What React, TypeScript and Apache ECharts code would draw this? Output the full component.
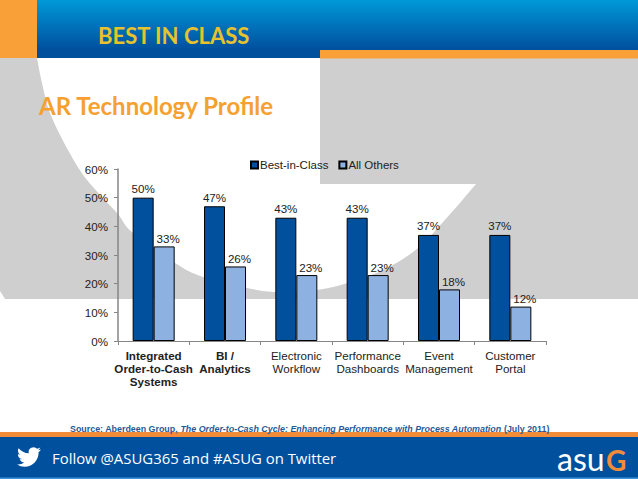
import React, { useEffect, useRef } from "react";
import * as echarts from "echarts";

const categories = [
  "Integrated\nOrder-to-Cash\nSystems",
  "BI /\nAnalytics",
  "Electronic\nWorkflow",
  "Performance\nDashboards",
  "Event\nManagement",
  "Customer\nPortal",
];
const boldCategories = [0, 1];
const bestInClass = [50, 47, 43, 43, 37, 37];
const allOthers = [33, 26, 23, 23, 18, 12];
const yTicks = { min: 0, max: 60, interval: 10 };

const FONT = "'Liberation Sans', Arial, sans-serif";
const HEAD = "Lato, 'Open Sans', sans-serif";

const ARC_POINTS = [
  [476, 184], [451, 213], [418, 248], [385, 269], [351, 282], [317, 290], [277, 292], [247, 288],
  [203, 277], [175, 263], [132, 232], [117, 213], [87, 180], [68, 150], [50, 113], [42, 83], [37, 58],
];

function smoothArc(points: number[][]) {
  let d = "M320 58 L320 184 L" + points[0][0] + " " + points[0][1];
  for (let i = 0; i < points.length - 1; i++) {
    const p0 = points[Math.max(i - 1, 0)];
    const p1 = points[i];
    const p2 = points[i + 1];
    const p3 = points[Math.min(i + 2, points.length - 1)];
    const c1x = p1[0] + (p2[0] - p0[0]) / 6;
    const c1y = p1[1] + (p2[1] - p0[1]) / 6;
    const c2x = p2[0] - (p3[0] - p1[0]) / 6;
    const c2y = p2[1] - (p3[1] - p1[1]) / 6;
    d += ` C${c1x} ${c1y} ${c2x} ${c2y} ${p2[0]} ${p2[1]}`;
  }
  return d + " Z";
}

const TWITTER =
  "M23.953 4.57a10 10 0 0 1 -2.825 .775 4.958 4.958 0 0 0 2.163 -2.723c-.951 .555 -2.005 .959 -3.127 1.184a4.92 4.92 0 0 0 -8.384 4.482C7.69 8.095 4.067 6.13 1.64 3.162a4.822 4.822 0 0 0 -.666 2.475c0 1.71 .87 3.213 2.188 4.096a4.904 4.904 0 0 1 -2.228 -.616v.06a4.923 4.923 0 0 0 3.946 4.827 4.996 4.996 0 0 1 -2.212 .085 4.936 4.936 0 0 0 4.604 3.417 9.867 9.867 0 0 1 -6.102 2.105c-.39 0 -.779 -.023 -1.17 -.067a13.995 13.995 0 0 0 7.557 2.209c9.053 0 13.998 -7.496 13.998 -13.985 0 -.21 0 -.42 -.015 -.63A9.935 9.935 0 0 0 24 4.59z";

echarts.graphic.registerShape("whiteArc", echarts.graphic.extendPath(smoothArc(ARC_POINTS) as any, {}) as any);
echarts.graphic.registerShape("bird", echarts.graphic.extendPath(TWITTER as any, {}) as any);

export default function App() {
  const ref = useRef<HTMLDivElement>(null);
  useEffect(() => {
    document.body.style.margin = "0";
    const chart = echarts.init(ref.current!, null, { renderer: "svg" });
    const seriesLabel = {
      show: true,
      position: "top" as const,
      formatter: "{c}%",
      fontFamily: FONT,
      fontSize: 11.6,
      color: "#222",
      distance: 2,
    };
    chart.setOption({
      animation: false,
      backgroundColor: "#ffffff",
      graphic: [
        { type: "rect", z: -10, shape: { x: 0, y: 58, width: 638, height: 241 }, style: { fill: "#cfcfcf" } },
        { type: "polygon", z: -9, shape: { points: [[0, 291], [0, 299], [5, 299]] }, style: { fill: "#ffffff" } },
        { type: "whiteArc", z: -9, x: 0, y: 0, style: { fill: "#ffffff" } },
        {
          type: "rect",
          z: -8,
          shape: { x: 36, y: 0, width: 602, height: 58 },
          style: {
            fill: {
              type: "linear", x: 0, y: 0, x2: 0, y2: 1,
              colorStops: [
                { offset: 0, color: "#0099d8" },
                { offset: 0.85, color: "#00509e" },
                { offset: 1, color: "#00509e" },
              ],
            },
          },
        },
        { type: "rect", z: -7, shape: { x: 0, y: 0, width: 37, height: 58 }, style: { fill: "#f9a039" } },
        { type: "rect", z: -7, shape: { x: 320, y: 50, width: 318, height: 8.5 }, style: { fill: "#f9a039" } },
        { type: "rect", z: -8, shape: { x: 0, y: 432, width: 638, height: 5 }, style: { fill: "#f28c38" } },
        { type: "rect", z: -8, shape: { x: 0, y: 437, width: 638, height: 41 }, style: { fill: "#00509e" } },
        { type: "rect", z: -8, shape: { x: 0, y: 477.5, width: 638, height: 1.5 }, style: { fill: "#3f93d8" } },
        { type: "text", x: 98, y: 24, style: { text: "BEST IN CLASS", fill: "#e8c22c", font: `bold 22px ${HEAD}` } },
        { type: "text", x: 39, y: 93, style: { text: "AR Technology Profile", fill: "#f4a132", font: `bold 24px ${HEAD}` } },
        {
          type: "text",
          x: 70,
          y: 424,
          style: {
            text: "{a|Source: Aberdeen Group, }{b|The Order-to-Cash Cycle: Enhancing Performance with Process Automation} {a|(July 2011)}",
            rich: {
              a: { font: `bold 8.9px ${FONT}`, fill: "#1f5a96" },
              b: { font: `italic bold 8.9px ${FONT}`, fill: "#1f5a96" },
            },
            font: `bold 8.9px ${FONT}`,
            fill: "#1f5a96",
          },
        },
        { type: "bird", x: 17, y: 445, scaleX: 1, scaleY: 1, style: { fill: "#ffffff" } },
        { type: "text", x: 52, y: 450, style: { text: "Follow @ASUG365 and #ASUG on Twitter", fill: "#ffffff", font: `14.9px 'Open Sans', sans-serif` } },
        {
          type: "text", x: 557, y: 458,
          style: { text: "asu", fill: "#ffffff", font: `32px Lato, sans-serif`, verticalAlign: "middle" },
        },
        {
          type: "text", x: 606, y: 460,
          style: { text: "G", fill: "#f28c38", font: `bold 28px Lato, sans-serif`, verticalAlign: "middle" },
        },
      ],
      legend: {
        left: 245,
        top: 154,
        itemWidth: 7,
        itemHeight: 7,
        itemGap: 10,
        icon: "rect",
        textStyle: { fontFamily: FONT, fontSize: 11.5, color: "#222", padding: [0, 0, 0, -3] },
        data: ["Best-in-Class", "All Others"],
      },
      grid: { left: 118, right: 92, top: 169, bottom: 138 },
      xAxis: {
        type: "category",
        data: categories.map((c, i) =>
          boldCategories.includes(i) ? { value: c, textStyle: { fontWeight: "bold" } } : c
        ),
        axisLine: { lineStyle: { color: "#868686", width: 1 } },
        axisTick: { show: true, length: 4, alignWithLabel: false, lineStyle: { color: "#868686" } },
        axisLabel: {
          interval: 0,
          margin: 8,
          fontFamily: FONT,
          fontSize: 11.6,
          lineHeight: 13,
          color: "#222",
        },
      },
      yAxis: {
        type: "value",
        min: yTicks.min,
        max: yTicks.max,
        interval: yTicks.interval,
        splitLine: { show: false },
        axisLine: { show: true, lineStyle: { color: "#868686", width: 1.5 } },
        axisTick: { show: true, length: 4, lineStyle: { color: "#868686" } },
        axisLabel: { formatter: "{value}%", margin: 10, fontFamily: FONT, fontSize: 11.6, color: "#222" },
      },
      series: [
        {
          name: "Best-in-Class",
          type: "bar",
          data: bestInClass,
          barWidth: 21,
          barGap: 0,
          itemStyle: { color: "#00509e", borderColor: "#000", borderWidth: 1 },
          label: { ...seriesLabel, distance: 3 },
        },
        {
          name: "All Others",
          type: "bar",
          data: allOthers,
          barWidth: 21,
          itemStyle: { color: "#8db1e1", borderColor: "#000", borderWidth: 1 },
          label: { ...seriesLabel, offset: [4, 0] },
        },
      ],
    });
    return () => chart.dispose();
  }, []);
  return <div ref={ref} style={{ width: 638, height: 479 }} />;
}
